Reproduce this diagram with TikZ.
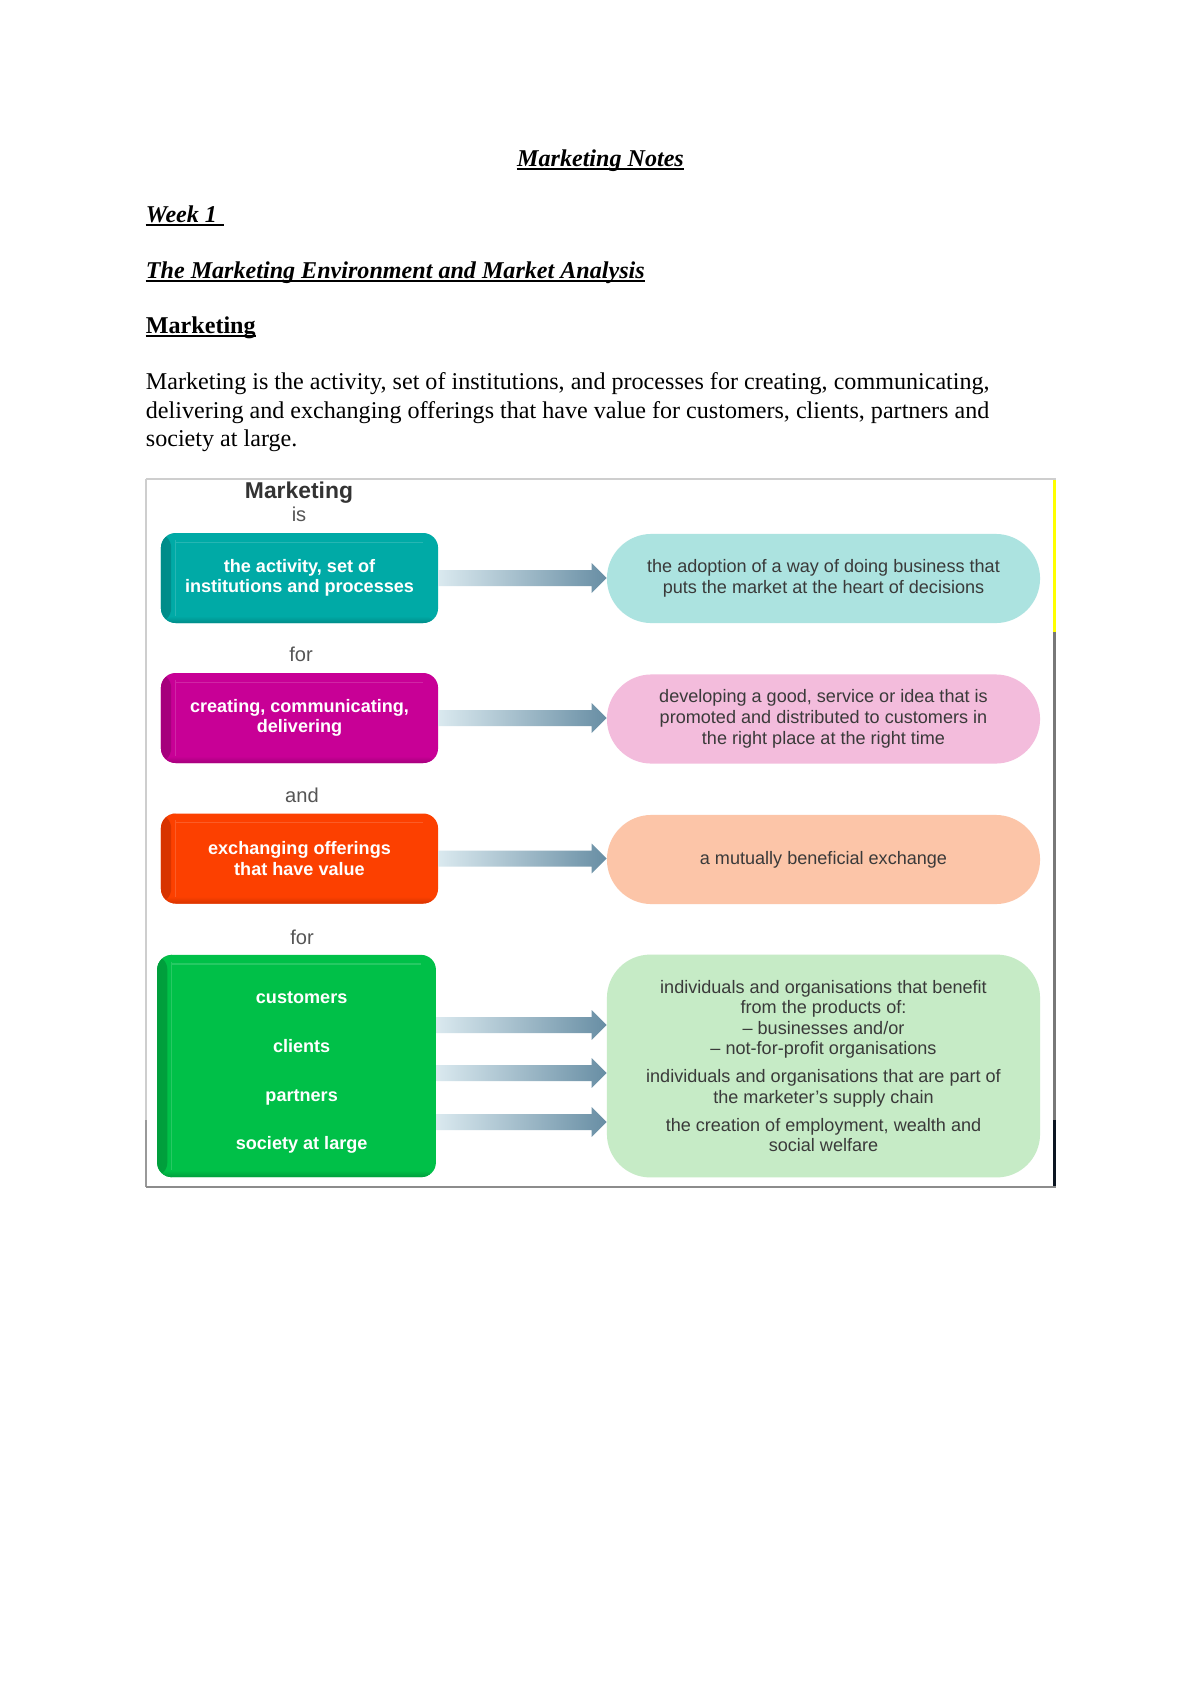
\documentclass[tikz,border=0pt]{standalone}
\usepackage{fontspec}
\setmainfont{Liberation Serif}
\newfontfamily\diagfont{Liberation Sans}
\usetikzlibrary{calc}

\definecolor{tealA}{RGB}{0,170,166}
\definecolor{tealD}{RGB}{0,140,137}
\definecolor{magA}{RGB}{200,0,150}
\definecolor{magD}{RGB}{165,0,124}
\definecolor{redA}{RGB}{252,64,0}
\definecolor{redD}{RGB}{215,52,0}
\definecolor{grnA}{RGB}{0,192,72}
\definecolor{grnD}{RGB}{0,158,60}
\definecolor{tealL}{RGB}{172,227,224}
\definecolor{pinkL}{RGB}{243,188,220}
\definecolor{peachL}{RGB}{252,197,168}
\definecolor{grnL}{RGB}{198,235,198}
\definecolor{arrL}{RGB}{218,233,239}
\definecolor{arrR}{RGB}{104,142,164}
\definecolor{pilltext}{RGB}{58,58,58}
\definecolor{linktext}{RGB}{85,85,85}
\definecolor{frameL}{RGB}{206,206,206}
\definecolor{frameM}{RGB}{120,120,120}
\definecolor{frameK}{RGB}{12,22,34}
\definecolor{frameY}{RGB}{255,255,0}

\newcommand\gradarrow[2]{%
  \shade[left color=arrL, right color=arrR] let \p1=#1, \p2=#2 in
    (\x1,\y1+1.4mm) -- (\x2-2.6mm,\y1+1.4mm) -- (\x2-2.6mm,\y1+2.6mm) --
    (\x2,\y1) -- (\x2-2.6mm,\y1-2.6mm) -- (\x2-2.6mm,\y1-1.4mm) --
    (\x1,\y1-1.4mm) -- cycle;}

\begin{document}
\begin{tikzpicture}[x=0.175mm, y=-0.175mm,
  pagetxt/.style={inner sep=0, anchor=base west, font=\fontsize{12}{14}\selectfont},
  uline/.style={line width=0.26mm},
  cbox/.style 2 args={rounded corners=2.6mm, minimum width=48.5mm,
    minimum height=15.75mm, inner sep=0, fill=#1, text=white, align=center,
    font=\diagfont\bfseries\fontsize{9}{10}\selectfont,
    path picture={
      \shade[left color=#2, right color=#1]
        (path picture bounding box.south west) rectangle
        ([xshift=1.8mm]path picture bounding box.north west);
      \shade[top color=#1, bottom color=#2]
        ([yshift=1.2mm]path picture bounding box.south west) rectangle
        (path picture bounding box.south east);
      \draw[white, opacity=0.15, line width=0.18mm]
        ([xshift=2.6mm,yshift=-1.2mm]path picture bounding box.north west) --
        ([xshift=2.6mm,yshift=1.2mm]path picture bounding box.south west);
      \draw[white, opacity=0.15, line width=0.18mm]
        ([xshift=2.6mm,yshift=-1.6mm]path picture bounding box.north west) --
        ([xshift=-2.6mm,yshift=-1.6mm]path picture bounding box.north east);
    }},
  pill/.style={rounded corners=7.8mm, minimum width=75.8mm,
    minimum height=15.6mm, inner sep=0, fill=#1, text=pilltext, align=center,
    font=\diagfont\fontsize{9}{10.4}\selectfont},
  link/.style={inner sep=0, text=linktext, font=\diagfont\fontsize{10}{12}\selectfont}
]
\useasboundingbox (0,0) rectangle (1200,1698);
\fill[white] (0,0) rectangle (1200,1698);

% ---------- page text ----------
\node[pagetxt, anchor=base] (title) at (600.5,166) {\bfseries\itshape Marketing Notes};
\draw[uline] ([yshift=-0.5mm]title.base west) -- ([yshift=-0.5mm]title.base east);

\node[pagetxt] (week) at (145.5,222) {\bfseries\itshape Week 1};
\draw[uline] ([yshift=-0.5mm]week.base west) -- ([xshift=1.06mm,yshift=-0.5mm]week.base east);

\node[pagetxt] (env) at (145.5,278) {\bfseries\itshape The Marketing Environment and Market Analysis};
\draw[uline] ([yshift=-0.5mm]env.base west) -- ([yshift=-0.5mm]env.base east);

\node[pagetxt] (mkt) at (145.5,333) {\bfseries Marketing};
\draw[uline] ([yshift=-0.5mm]mkt.base west) -- ([yshift=-0.5mm]mkt.base east);

\node[pagetxt] (l1) at (145.5,389) {Marketing is the activity, set of institutions, and processes for creating, communicating,};
\node[pagetxt] (l2) at (145.5,418) {delivering and exchanging offerings that have value for customers, clients, partners and};
\node[pagetxt] (l3) at (145.5,446) {society at large.};

% ---------- frame ----------
\draw[frameL, line width=0.2mm] (146,479) -- (1056,479);
\draw[frameL, line width=0.2mm] (146,479) -- (146,1120);
\draw[black!40, line width=0.2mm] (146,1120) -- (146,1187);
\draw[frameY, line width=0.4mm] (1054.5,480) -- (1054.5,632);
\draw[frameM, line width=0.4mm] (1054.5,632) -- (1054.5,1120);
\draw[frameK, line width=0.4mm] (1054.5,1120) -- (1054.5,1187);
\draw[black!45, line width=0.45mm] (146,1187) -- (1056,1187);

% ---------- diagram ----------
\node[inner sep=0, text=black!80, font=\diagfont\bfseries\fontsize{11.4}{13}\selectfont] (head) at (299,493) {Marketing};
\node[link] (is) at (299,514) {is};

\node[cbox={tealA}{tealD}] (b1) at (299.5,578) {the activity, set of\\institutions and processes};
\node[link] (for1) at (301,654) {for};
\node[cbox={magA}{magD}] (b2) at (299.5,718) {creating, communicating,\\delivering};
\node[link] (and) at (302,795) {and};
\node[cbox={redA}{redD}] (b3) at (299.5,858.5) {exchanging offerings\\that have value};
\node[link] (for2) at (302,937) {for};
\node[cbox={grnA}{grnD}, minimum width=48.8mm, minimum height=38.9mm] (b4) at (296.5,1066) {};
\node[inner sep=0, text=white, align=center,
      font=\diagfont\bfseries\fontsize{9}{24.2}\selectfont] (b4t) at ([xshift=0.9mm,yshift=-1.2mm]b4.center)
      {customers\\clients\\partners\\society at large};

\node[pill=tealL] (p1) at (823.5,578.5) {the adoption of a way of doing business that\\puts the market at the heart of decisions};
\node[pill=pinkL] (p2) at (823.5,719) {developing a good, service or idea that is\\promoted and distributed to customers in\\the right place at the right time};
\node[pill=peachL] (p3) at (823.5,859.5) {a mutually beneficial exchange};
\node[pill=grnL, minimum height=39mm, rounded corners=7.6mm,
      font=\diagfont\fontsize{9}{10.2}\selectfont] (p4) at (823.5,1066)
      {individuals and organisations that benefit\\from the products of:\\
       – businesses and/or\\– not-for-profit organisations\\[3.8pt]
       individuals and organisations that are part of\\the marketer’s supply chain\\[3.8pt]
       the creation of employment, wealth and\\social welfare};

\coordinate (r5) at (0,1025);
\coordinate (r6) at (0,1073);
\coordinate (r7) at (0,1122);

\gradarrow{(b1.east)}{(p1.west)}
\gradarrow{(b2.east)}{(p2.west)}
\gradarrow{(b3.east)}{(p3.west)}
\gradarrow{(b4.east |- r5)}{(p4.west)}
\gradarrow{(b4.east |- r6)}{(p4.west)}
\gradarrow{(b4.east |- r7)}{(p4.west)}
\end{tikzpicture}
\end{document}
